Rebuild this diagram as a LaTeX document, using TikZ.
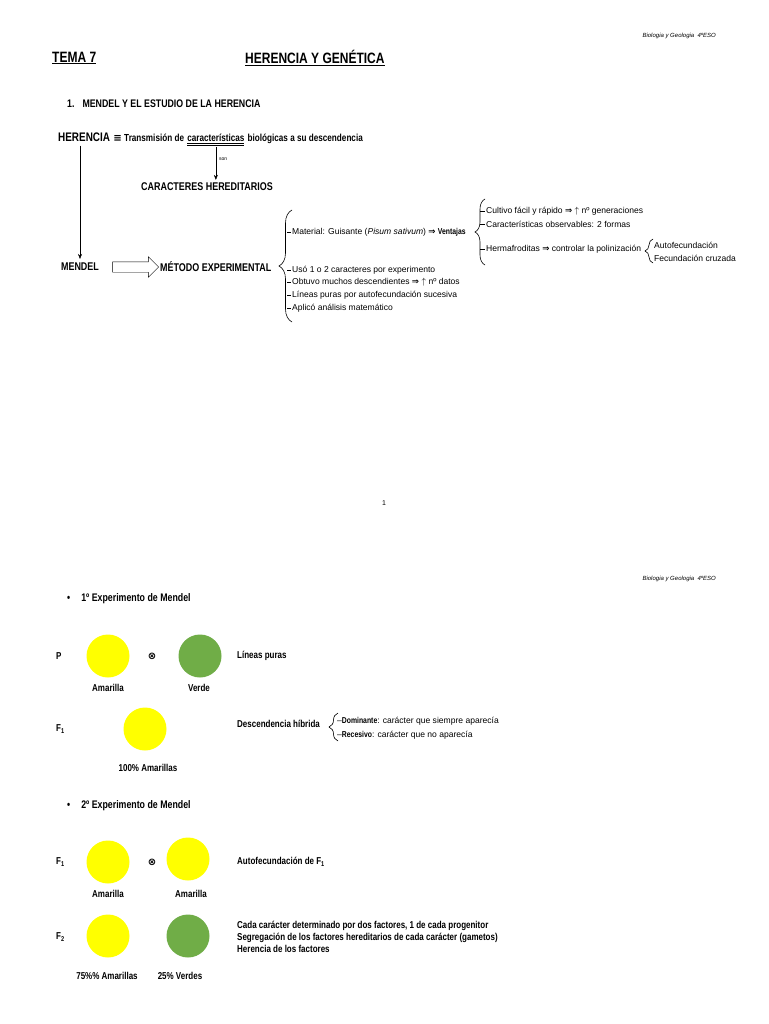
\documentclass[tikz,border=0pt]{standalone}
\usepackage{fontspec}
\setmainfont{Liberation Sans}[BoldFeatures={FakeStretch=0.8}]
\newfontfamily\simbolos{DejaVu Sans}
\usetikzlibrary{positioning,arrows.meta,shapes.arrows,decorations.pathreplacing}
\definecolor{amarillo}{RGB}{255,255,0}
\definecolor{verde}{RGB}{112,173,71}
\newcommand{\tam}[1]{\fontsize{#1}{12}\selectfont}
\newcommand{\implica}{{\simbolos\bfseries ⇒}}

\begin{document}
\begin{tikzpicture}[x=1pt, y=-1pt,
    cabecera/.style={font=\itshape\tam{6}, anchor=east, inner sep=0pt},
    titulo/.style={font=\bfseries\tam{15}, anchor=west, inner sep=0pt},
    apartado/.style={font=\bfseries\tam{11}, anchor=west, inner sep=0pt},
    concepto/.style={font=\bfseries\tam{11.2}, inner sep=0pt},
    texto/.style={font=\tam{8.55}, anchor=west, inner sep=0pt},
    etiq/.style={font=\bfseries\tam{10}, anchor=west, inner sep=0pt},
    nota/.style={font=\bfseries\tam{10}, inner sep=0pt},
    guisante/.style={circle, minimum size=43pt, inner sep=0pt},
    cruce/.style={font=\simbolos\bfseries\tam{10}, inner sep=0pt},
    llave/.style={decorate, decoration={brace, amplitude=#1}, semithick},
    llave/.default=10pt,
    guion/.style={semithick},
    flecha/.style={-{Stealth[length=5pt, width=4pt]}, thin},
    bloque/.style={single arrow, draw, thin, minimum height=46pt, text height=5pt,
                   text depth=5pt, single arrow head extend=5pt, inner sep=0pt}
  ]
  \fill[white] (0,0) rectangle (768,1024);
  \useasboundingbox (0,0) rectangle (768,1024);

  % ===== Pagina 1: cabecera y titulo =====
  \node[cabecera] (cab1) at (716,36) {Biologia y Geologia\ \ 4ºESO};
  \node[titulo] (tema)   at (52,58)  {\underline{TEMA 7}};
  \node[titulo] (titulo) at (245,58) {\underline{HERENCIA Y GENÉTICA}};
  \node[apartado] (apt1) at (67,104) {1.\hspace{8pt}MENDEL Y EL ESTUDIO DE LA HERENCIA};

  % ===== Definicion de herencia =====
  \node[concepto, font=\bfseries\tam{12.4}, anchor=west] (herencia) at (58,137) {HERENCIA};
  \node[concepto, font=\bfseries\tam{10.2}, anchor=base west] (transm)
    at ([xshift=3pt]herencia.base east) {{\simbolos ≡} Transmisión de};
  \node[concepto, font=\bfseries\tam{10.2}, anchor=base west] (caract)
    at ([xshift=2.8pt]transm.base east) {\underline{\underline{características}}};
  \node[concepto, font=\bfseries\tam{10.2}, anchor=base west] (biol)
    at ([xshift=2.8pt]caract.base east) {biológicas a su descendencia};
  \node[concepto] (carher) at (207,187) {CARACTERES HEREDITARIOS};
  \draw[flecha] ([yshift=-1pt]caract.south) -- ([yshift=3pt]caract.south |- carher.north)
    node[pos=0.38, right=3pt, font=\tam{5}, inner sep=0pt] {son};

  % ===== Mendel y el metodo experimental =====
  \node[concepto] (mendel) at (80,267) {MENDEL};
  \draw[flecha] ([yshift=-4pt]mendel.north |- herencia.south) -- ([yshift=4pt]mendel.north);
  \node[bloque] (paso) at (133,267) {};
  \node[concepto, anchor=west] (metodo) at (160,267) {MÉTODO EXPERIMENTAL};

  \draw[llave=13pt] (292,322) -- (292,210);
  \foreach \y in {232,270,282,295,308}
    \draw[guion] (287,\y) -- (291,\y);
  \node[texto] (material) at (292,232) {Material: Guisante (\textit{Pisum sativum}) \implica\ \textbf{Ventajas}};
  \node[texto] (uso)      at (292,270) {Usó 1 o 2 caracteres por experimento};
  \node[texto] (obtuvo)   at (292,282) {Obtuvo muchos descendientes \implica\ $\uparrow$ nº datos};
  \node[texto] (lineas)   at (292,295) {Líneas puras por autofecundación sucesiva};
  \node[texto] (aplico)   at (292,308) {Aplicó análisis matemático};

  % ventajas del guisante
  \draw[llave=10pt] (485,265) -- (485,199);
  \foreach \y in {211,224,249}
    \draw[guion] (480,\y) -- (485,\y);
  \node[texto] (cultivo) at (486,211) {Cultivo fácil y rápido \implica\ $\uparrow$ nº generaciones};
  \node[texto] (observ)  at (486,224) {Características observables: 2 formas};
  \node[texto] (herma)   at (486,249) {Hermafroditas \implica\ controlar la polinización};

  \draw[llave=8pt] (653,263) -- (653,239);
  \node[texto] (autof) at (654,245) {Autofecundación};
  \node[texto] (cruz)  at (654,258) {Fecundación cruzada};

  \node[font=\tam{7}, inner sep=0pt] (pag1) at (384,503) {1};

  % ===== Pagina 2: primer experimento =====
  \node[cabecera] (cab2) at (716,579) {Biologia y Geologia\ \ 4ºESO};
  \node[apartado] (exp1) at (67,599) {\textbullet\hspace{11pt}1º Experimento de Mendel};

  \node[etiq] (p) at (56,656) {P};
  \node[guisante, fill=amarillo] (pam) at (108,656) {};
  \node[cruce] (x1) at (152,656) {⊗};
  \node[guisante, fill=verde] (pve) at (200,656) {};
  \node[etiq] (puras) at (237,656) {Líneas puras};
  \node[nota] (nam1) at (108,688) {Amarilla};
  \node[nota] (nve1) at (199,688) {Verde};

  \node[etiq] (f1) at (56,729) {F\textsubscript{1}};
  \node[guisante, fill=amarillo] (f1am) at (145,729) {};
  \node[nota] (todas) at (148,768) {100\% Amarillas};
  \node[etiq] (hibrida) at (237,724) {Descendencia híbrida};
  \draw[llave=9pt] (338,741) -- (338,713);
  \node[texto] (domin) at (337,721) {--\textbf{Dominante}: carácter que siempre aparecía};
  \node[texto] (reces) at (337,735) {--\textbf{Recesivo}: carácter que no aparecía};

  % ===== Segundo experimento =====
  \node[apartado] (exp2) at (67,806) {\textbullet\hspace{11pt}2º Experimento de Mendel};

  \node[etiq] (f1b) at (56,862) {F\textsubscript{1}};
  \node[guisante, fill=amarillo] (f1x) at (108,862) {};
  \node[cruce] (x2) at (152,862) {⊗};
  \node[guisante, fill=amarillo] (f1y) at (188,859) {};
  \node[etiq] (autofec) at (237,862) {Autofecundación de F\textsubscript{1}};
  \node[nota] (nam2) at (108,894) {Amarilla};
  \node[nota] (nam3) at (191,894) {Amarilla};

  \node[etiq] (f2) at (56,937) {F\textsubscript{2}};
  \node[guisante, fill=amarillo] (f2am) at (108,936) {};
  \node[guisante, fill=verde] (f2ve) at (188,936) {};
  \node[etiq, align=left] (factores) at (237,937) {Cada carácter determinado por dos factores, 1 de cada progenitor\\
    Segregación de los factores hereditarios de cada carácter (gametos)\\
    Herencia de los factores};
  \node[nota] (n75) at (107,976) {75\%\% Amarillas};
  \node[nota] (n25) at (180,976) {25\% Verdes};
\end{tikzpicture}
\end{document}
